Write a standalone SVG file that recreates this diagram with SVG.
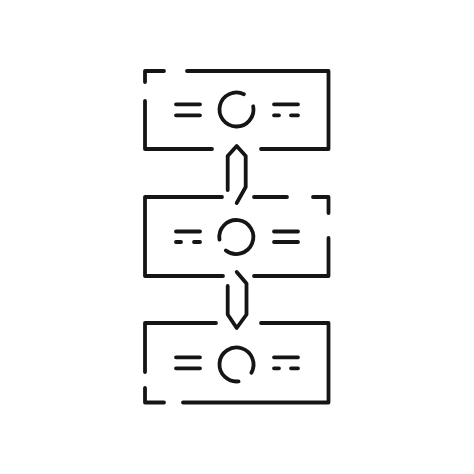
<svg xmlns="http://www.w3.org/2000/svg" width="474" height="474" viewBox="0 0 474 474">
<style>
.s{fill:none;stroke:#151515;stroke-width:3.8;stroke-linecap:round;stroke-linejoin:round}
</style>
<rect width="474" height="474" fill="#ffffff"/>
<g id="connectors" class="s">
<path d="M227.7,190 L227.7,156 L236.7,146 L245.7,156 L245.7,187 L236.7,203"/>
<path d="M236.7,272 L246.5,283.5 L246.5,314.5 L236.7,328 L227.7,314.5 L227.7,286"/>
</g>
<g id="node1" class="s">
<path d="M145,82 L145,71 L164,71"/>
<path d="M187,71 L328.5,71 L328.5,149 L261,149"/>
<path d="M212,149 L145,149 L145,101"/>
<path d="M176,104.3 H200 M176,115.3 H200"/>
<path d="M274,104.3 H298 M274,115.3 H279 M291,115.3 H298"/>
<path d="M253.19,106.26 A17,17 0 1 1 243.95,94.22"/>
</g>
<g id="node2" class="s">
<path d="M222,197 L145,197 L145,276 L223,276"/>
<path d="M254,197 L287,197"/>
<path d="M313,197 L328.5,197 L328.5,213"/>
<path d="M328.5,238 L328.5,276 L254,276"/>
<path d="M176,231.5 H200 M176,242 H181 M194,242 H200"/>
<path d="M274,231.5 H298 M274,242 H298"/>
<path d="M219.51,239.66 A17,17 0 1 1 225.83,250.4"/>
</g>
<g id="node3" class="s">
<path d="M216,323 L145,323 L145,372"/>
<path d="M145,388 L145,402.5 L164,402.5"/>
<path d="M183,402.5 L328.5,402.5 L328.5,323 L261,323"/>
<path d="M176,357.3 H200 M176,368.3 H200"/>
<path d="M274,357.3 H298 M274,368.3 H279 M291,368.3 H298"/>
<path d="M238.57,381.37 A17,17 0 1 1 251.37,372.74"/>
</g>
</svg>
